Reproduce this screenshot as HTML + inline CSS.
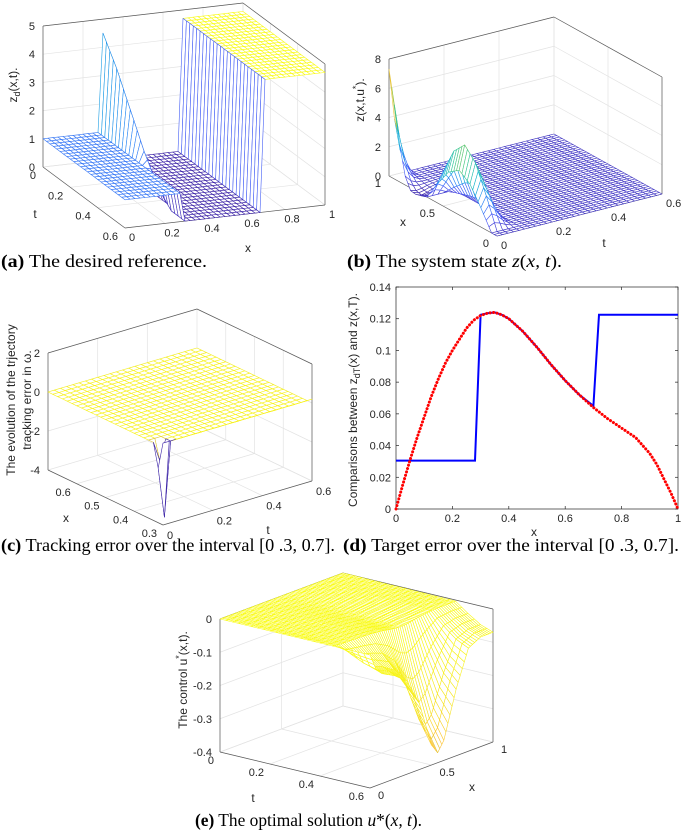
<!DOCTYPE html>
<html><head><meta charset="utf-8">
<style>
html,body{margin:0;padding:0;background:#fff;}
svg{display:block;}
text{font-family:"Liberation Sans",sans-serif;}
.cap{font-family:"Liberation Serif",serif;font-size:18px;fill:#000;}
.tk{font-size:11px;fill:#262626;}
.al{font-size:12px;fill:#262626;}
</style></head>
<body>
<svg id="fig" width="685" height="832" viewBox="0 0 685 832" xmlns="http://www.w3.org/2000/svg">
<text class="cap" x="1" y="267" textLength="206" lengthAdjust="spacingAndGlyphs"><tspan font-weight="bold">(a)</tspan> The desired reference.</text>
<text class="cap" x="347" y="267" textLength="215" lengthAdjust="spacingAndGlyphs"><tspan font-weight="bold">(b)</tspan> The system state  <tspan font-style="italic">z</tspan>(<tspan font-style="italic">x, t</tspan>).</text>
<text class="cap" x="1" y="551" textLength="334" lengthAdjust="spacingAndGlyphs"><tspan font-weight="bold">(c)</tspan> Tracking error over the interval [0 .3, 0.7].</text>
<text class="cap" x="343" y="551" textLength="336" lengthAdjust="spacingAndGlyphs"><tspan font-weight="bold">(d)</tspan> Target error over the interval [0 .3, 0.7].</text>
<text class="cap" x="195" y="826" textLength="227" lengthAdjust="spacingAndGlyphs"><tspan font-weight="bold">(e)</tspan> The optimal solution  <tspan font-style="italic">u</tspan>*(<tspan font-style="italic">x, t</tspan>).</text>

<text class="al" transform="translate(17,85) rotate(-90)" text-anchor="middle">z<tspan font-size="9" dy="3">d</tspan><tspan dy="-3">(x,t).</tspan></text>
<text class="al" x="248" y="252" text-anchor="middle">x</text>
<text class="al" x="35" y="218" text-anchor="middle">t</text>

<text class="al" transform="translate(364,100) rotate(-90)" text-anchor="middle">z(x,t,u<tspan font-size="9" dy="-5">*</tspan><tspan dy="5">).</tspan></text>
<text class="al" x="403" y="226" text-anchor="middle">x</text>
<text class="al" x="604" y="247" text-anchor="middle">t</text>

<text class="al" transform="translate(15,400) rotate(-90)" text-anchor="middle" font-size="11.5">The evolution of the trjectory</text>
<text class="al" transform="translate(31,400) rotate(-90)" text-anchor="middle" font-size="11.5">tracking error in ω.</text>
<text class="al" x="66" y="522" text-anchor="middle">x</text>
<text class="al" x="268" y="534" text-anchor="middle">t</text>

<text class="al" transform="translate(357,400) rotate(-90)" text-anchor="middle">Comparisons between z<tspan font-size="9" dy="3">dT</tspan><tspan dy="-3">(x) and z(x,T).</tspan></text>
<text class="al" x="534" y="536" text-anchor="middle">x</text>

<text class="al" transform="translate(187,680) rotate(-90)" text-anchor="middle">The control u<tspan font-size="9" dy="-5">*</tspan><tspan dy="5">(x,t).</tspan></text>
<text class="al" x="253" y="802" text-anchor="middle">t</text>
<text class="al" x="472" y="791" text-anchor="middle">x</text>
</svg>
<script>
// ---------- Chart (d) data ----------
const dXTicks=[0,0.2,0.4,0.6,0.8,1];
const dYTicks=[0,0.02,0.04,0.06,0.08,0.1,0.12,0.14];
const dYTickLabels=['0','0.02','0.04','0.06','0.08','0.1','0.12','0.14'];
const dXTickLabels=['0','0.2','0.4','0.6','0.8','1'];
const redX=[0,0.025,0.05,0.075,0.1,0.125,0.15,0.175,0.2,0.225,0.25,0.275,0.3,0.325,0.35,0.375,0.4,0.45,0.5,0.55,0.6,0.65,0.7,0.75,0.8,0.85,0.9,0.925,0.95,0.975,1];
const redY=[0,0.016,0.031,0.045,0.058,0.071,0.082,0.092,0.1,0.107,0.114,0.119,0.122,0.1235,0.124,0.1225,0.12,0.112,0.102,0.091,0.081,0.072,0.064,0.057,0.051,0.045,0.035,0.028,0.019,0.01,0];
const blueX=[0,0.28,0.3,0.325,0.35,0.375,0.4,0.45,0.5,0.55,0.6,0.65,0.7,0.72,1];
const blueY=[0.0305,0.0305,0.1225,0.1235,0.124,0.1225,0.12,0.112,0.102,0.091,0.081,0.072,0.065,0.1225,0.1225];

// ---------- 3D surface data ----------
const aLeftLevel=1.0, aPlateauLevel=4.7;
const aRidgeT=[0,0.1,0.2,0.3,0.4,0.5,0.6];
const aRidgeZ=[4.5,3.6,2.5,1.4,0.5,0,0];
const bSpikeX=[0.8,0.85,0.9,0.95,1];
const bSpikeXw=[0,0.1,0.35,0.7,1];
const bSpikeT=[0,0.025,0.05,0.075,0.6];
const bSpikeTw=[1,0.4,0.1,0,0];
const bSpikePeak=7.3;
const bHumpX=[0,0.05,0.15,0.25,0.35,0.45,0.55,0.65,0.75,0.85,1];
const bHumpZ=[0,0,2.2,4.2,5.1,4.2,2.2,0,-0.4,-0.2,0];
const bHumpT=[0,0.025,0.05,0.075,0.1,0.6];
const bHumpTw=[0.6,1,0.5,0.15,0,0];
const cSpikeCells=[[1,1,-3.8],[1,0,-1.2],[2,1,-1.0]];
const cEdgeLift=0.2;
const eProfX=[0,0.05,0.1,0.2,0.3,0.4,0.5,0.55,0.6,0.7,0.8,0.9,1];
const eProfZ=[0,-0.05,-0.07,-0.09,-0.12,-0.2,-0.34,-0.37,-0.34,-0.2,-0.09,-0.07,-0.07];
const eRampT=[0,0.45,0.5,0.55,0.6];
const eRampW=[0,0.05,0.45,0.8,1];

const NS='http://www.w3.org/2000/svg';
const svg=document.getElementById('fig');
function mk(tag,attrs,parent){const e=document.createElementNS(NS,tag);for(const k in attrs)e.setAttribute(k,attrs[k]);(parent||svg).appendChild(e);return e;}
function interp(xs,ys,x){if(x<=xs[0])return ys[0];for(let i=1;i<xs.length;i++){if(x<=xs[i]+1e-9){const f=(x-xs[i-1])/(xs[i]-xs[i-1]);return ys[i-1]+f*(ys[i]-ys[i-1]);}}return ys[ys.length-1];}
const PAR=[[0,62,38,168],[0.125,72,82,244],[0.25,46,135,247],[0.375,18,177,214],[0.5,55,200,151],[0.625,171,199,57],[0.75,254,195,56],[0.875,245,226,38],[1,249,251,20]];
function parula(c){c=Math.max(0,Math.min(1,c));for(let i=1;i<PAR.length;i++){if(c<=PAR[i][0]){const a=PAR[i-1],b=PAR[i],f=(c-a[0])/(b[0]-a[0]);return 'rgb('+[1,2,3].map(k=>Math.round(a[k]+f*(b[k]-a[k]))).join(',')+')';}}return 'rgb(249,251,20)';}

function makePanel(P,name){
  const g=mk('g',{});
  
  
  const p=(x,t,z)=>{const u=(x-P.xr[0])/(P.xr[1]-P.xr[0]),v=(t-P.tr[0])/(P.tr[1]-P.tr[0]),w=(z-P.zr[0])/(P.zr[1]-P.zr[0]);return [P.O[0]+u*P.VX[0]+v*P.VT[0]+w*P.VZ[0],P.O[1]+u*P.VX[1]+v*P.VT[1]+w*P.VZ[1]];};
  const x0=P.xr[0],x1=P.xr[1],t0=P.tr[0],t1=P.tr[1],z0=P.zr[0],z1=P.zr[1];
  const corners=[[x0,t0],[x1,t0],[x0,t1],[x1,t1]];
  let back=corners[0];corners.forEach(c=>{if(p(c[0],c[1],z0)[1]<p(back[0],back[1],z0)[1])back=c;});
  const xb=back[0],tb=back[1],xf=xb===x0?x1:x0,tf=tb===t0?t1:t0;
  const gl={stroke:'#e3e3e3','stroke-width':0.7,fill:'none'};
  const line=(a,b,st)=>mk('line',Object.assign({x1:a[0],y1:a[1],x2:b[0],y2:b[1]},st),g);
  P.xt.forEach(x=>{line(p(x,t0,z0),p(x,t1,z0),gl);line(p(x,tb,z0),p(x,tb,z1),gl);});
  P.tt.forEach(t=>{line(p(x0,t,z0),p(x1,t,z0),gl);line(p(xb,t,z0),p(xb,t,z1),gl);});
  P.zt.forEach(z=>{line(p(x0,tb,z),p(x1,tb,z),gl);line(p(xb,t0,z),p(xb,t1,z),gl);});
  const ol={stroke:'#5a5a5a','stroke-width':0.7,fill:'none'};
  line(p(xf,tb,z0),p(xf,tf,z0),ol);line(p(xf,tf,z0),p(xb,tf,z0),ol);
  line(p(xf,tb,z0),p(xf,tb,z1),ol);line(p(xb,tf,z0),p(xb,tf,z1),ol);
  line(p(xf,tb,z1),p(xb,tb,z1),ol);line(p(xb,tb,z1),p(xb,tf,z1),ol);
  const nx=P.xs.length,nt=P.ts.length,S=P.S;
  let zmin=Infinity,zmax=-Infinity;S.forEach(r=>r.forEach(v=>{zmin=Math.min(zmin,v);zmax=Math.max(zmax,v);}));
  const quads=[];
  for(let i=0;i<nx-1;i++)for(let j=0;j<nt-1;j++){
    const xc=(P.xs[i]+P.xs[i+1])/2,tc=(P.ts[j]+P.ts[j+1])/2;
    quads.push({i,j,key:p(xc,tc,z0)[1]});
  }
  quads.sort((a,b)=>a.key-b.key);
  const sg=mk('g',{},g);
  
  
  const mw=P.minW||0, gam=P.gamma||1;
  quads.forEach(q=>{
    const i=q.i,j=q.j;
    const pts=[[i,j],[i+1,j],[i+1,j+1],[i,j+1]].map(ab=>p(P.xs[ab[0]],P.ts[ab[1]],S[ab[0]][ab[1]]));
    const vs=[S[i][j],S[i+1][j],S[i+1][j+1],S[i][j+1]];
    const zav=(vs[0]+vs[1]+vs[2]+vs[3])/4, zmn=Math.min.apply(null,vs);
    const zc=mw*zmn+(1-mw)*zav;
    const c=Math.pow((zc-zmin)/(zmax-zmin),gam);
    const poly=mk('polygon',{points:pts.map(v=>v[0].toFixed(1)+','+v[1].toFixed(1)).join(' '),fill:'#fff',stroke:parula(c),'stroke-width':0.6,'stroke-linejoin':'round'},sg);
    
    
  });
  const tick=(val,pt,off,anchor,axis)=>{const tx=mk('text',{x:(pt[0]+off[0]).toFixed(1),y:(pt[1]+off[1]).toFixed(1),'text-anchor':anchor,class:'tk'},g);tx.textContent=String(val);
    
    };
  P.zt.forEach(z=>tick(z,p(P.zAt[0],P.zAt[1],z),[-8,4],'end','z'));
  P.xt.forEach(x=>tick(x,p(x,P.xAtT,z0),P.xOff,P.xAnchor,'x'));
  P.tt.forEach(t=>tick(t,p(P.tAtX,t,z0),P.tOff,P.tAnchor,'t'));
}
function range(a,b,n){const r=[];for(let i=0;i<n;i++)r.push(a+(b-a)*i/(n-1));return r;}

(function(){
  const xs=range(0,1,41),ts=range(0,0.6,25);
  const S=xs.map(x=>ts.map(t=>{
    if(x<0.29)return aLeftLevel;
    if(x<0.31)return interp(aRidgeT,aRidgeZ,t);
    if(x<0.699)return 0;
    return aPlateauLevel;}));
  makePanel({O:[43,167],VX:[200,-23],VT:[82,61],VZ:[0,-141],xr:[0,1],tr:[0,0.6],zr:[0,5],
    xt:[0,0.2,0.4,0.6,0.8,1],tt:[0,0.2,0.4,0.6],zt:[0,1,2,3,4,5],xs:xs,ts:ts,S:S,minW:0.7,
    zAt:[0,0],xAtT:0.6,xOff:[7,13],xAnchor:'middle',tAtX:0,tOff:[-7,12],tAnchor:'end'},'surface-plot-a');
})();
(function(){
  const xs=range(0,1,41),ts=range(0,0.6,31);
  const S=xs.map(x=>ts.map(t=>bSpikePeak*interp(bSpikeX,bSpikeXw,x)*interp(bSpikeT,bSpikeTw,t)+interp(bHumpX,bHumpZ,x)*interp(bHumpT,bHumpTw,t)));
  makePanel({O:[497,236],VX:[-108,-60],VT:[165,-42],VZ:[0,-117],xr:[0,1],tr:[0,0.6],zr:[0,8],
    xt:[0,0.5,1],tt:[0,0.2,0.4,0.6],zt:[0,2,4,6,8],xs:xs,ts:ts,S:S,
    zAt:[1,0],xAtT:0,xOff:[-8,11],xAnchor:'end',tAtX:0,tOff:[4,13],tAnchor:'start'},'surface-plot-b');
})();
(function(){
  const xs=range(0.3,0.7,25),ts=range(0,0.6,25);
  const S=xs.map((x,i)=>ts.map((t,j)=>{let v=0;if(i===0)v=cEdgeLift;cSpikeCells.forEach(c=>{if(c[0]===i&&c[1]===j)v=c[2];});return v;}));
  makePanel({O:[163,525],VX:[-115,-55],VT:[149,-44],VZ:[0,-117],xr:[0.3,0.7],tr:[0,0.6],zr:[-4,2],
    xt:[0.3,0.4,0.5,0.6],tt:[0,0.2,0.4,0.6],zt:[-4,-2,0,2],xs:xs,ts:ts,S:S,minW:1,
    zAt:[0.7,0],xAtT:0,xOff:[-6,12],xAnchor:'end',tAtX:0.3,tOff:[4,14],tAnchor:'start'},'surface-plot-c');
})();
(function(){
  const xs=range(0,1,61),ts=range(0,0.6,25);
  const S=xs.map(x=>ts.map(t=>interp(eProfX,eProfZ,x)*interp(eRampT,eRampW,t)));
  makePanel({O:[220,752],VX:[123,-46],VT:[150,36],VZ:[0,-133],xr:[0,1],tr:[0,0.6],zr:[-0.4,0],
    xt:[0,0.5,1],tt:[0,0.2,0.4,0.6],zt:[-0.4,-0.3,-0.2,-0.1,0],xs:xs,ts:ts,S:S,gamma:0.12,
    zAt:[0,0],xAtT:0.6,xOff:[8,11],xAnchor:'start',tAtX:0,tOff:[-6,12],tAnchor:'end'},'surface-plot-e');
})();

(function(){
  const L=396,R=678,T=287,B=509;
  const sx=v=>L+(R-L)*v, sy=v=>B-(B-T)*v/0.14;
  const g=mk('g',{});
  
  
  const box=mk('rect',{x:L,y:T,width:R-L,height:B-T,fill:'#fff',stroke:'#262626','stroke-width':0.7},g);
  
  
  dYTicks.forEach((v,k)=>{
    mk('line',{x1:L,y1:sy(v),x2:L+3,y2:sy(v),stroke:'#262626','stroke-width':0.7},g);
    mk('line',{x1:R,y1:sy(v),x2:R-3,y2:sy(v),stroke:'#262626','stroke-width':0.7},g);
    const t=mk('text',{x:L-5,y:sy(v)+4,'text-anchor':'end',class:'tk'},g);t.textContent=dYTickLabels[k];
    
    
  });
  dXTicks.forEach((v,k)=>{
    mk('line',{x1:sx(v),y1:B,x2:sx(v),y2:B-3,stroke:'#262626','stroke-width':0.7},g);
    mk('line',{x1:sx(v),y1:T,x2:sx(v),y2:T+3,stroke:'#262626','stroke-width':0.7},g);
    const t=mk('text',{x:sx(v),y:B+13,'text-anchor':'middle',class:'tk'},g);t.textContent=dXTickLabels[k];
    
    
  });
  const bl=mk('polyline',{points:blueX.map((x,i)=>sx(x).toFixed(1)+','+sy(blueY[i]).toFixed(1)).join(' '),fill:'none',stroke:'#0000ff','stroke-width':2},g);
  
  
  const rl=mk('polyline',{points:redX.map((x,i)=>sx(x).toFixed(1)+','+sy(redY[i]).toFixed(1)).join(' '),fill:'none',stroke:'#ff0000','stroke-width':3,'stroke-linecap':'round','stroke-dasharray':'0.1 3.4'},g);
  
  
})();
</script>
</body></html>
